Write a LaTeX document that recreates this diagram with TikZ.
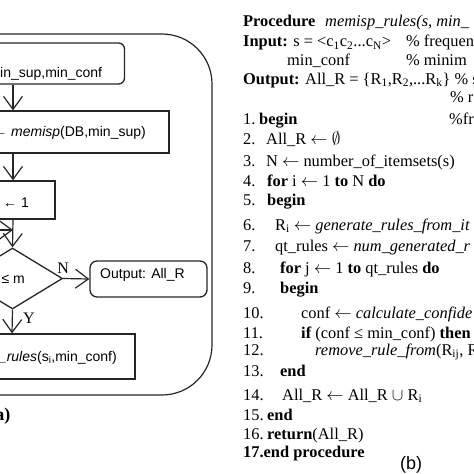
\documentclass[tikz,border=0pt]{standalone}
\usepackage{fontspec}
\setmainfont{Liberation Serif}
\newfontfamily\arialfont{Liberation Sans}
\usepackage{tikz}
\usetikzlibrary{shapes.geometric,arrows.meta,positioning,calc}

\newcommand{\flowfont}{\arialfont\fontsize{14}{16}\selectfont}
\newcommand{\algfont}{\fontsize{16.4}{20}\selectfont}
\newcommand{\getsarrow}{$\leftarrow$}

\begin{document}
\begin{tikzpicture}[
    x=1pt,y=-1pt,
    box/.style={draw=black!85,line width=1.3pt,inner sep=0pt},
    rbox/.style={box,rounded corners=6pt},
    cond/.style={box,diamond},
    ftxt/.style={font=\flowfont,inner sep=0pt},
    lbl/.style={font=\fontsize{16}{16}\selectfont,inner sep=0pt},
    alg/.style={font=\algfont,anchor=base west,inner sep=0pt},
    flow/.style={-{Straight Barb[length=13pt,width=19pt]},line width=1.2pt,draw=black!85},
]
    \useasboundingbox (0,0) rectangle (474,474);
    \clip (0,0) rectangle (474,474);

    % (a) flowchart
    \draw[line width=1.2pt,draw=black!85,rounded corners=50pt] (-260,34) rectangle (212,395);

    \node[rbox,minimum width=223pt,minimum height=41pt] (inbox) at (13,63.5) {};
    \node[box,minimum width=312pt,minimum height=42pt] (memisp) at (13,132) {};
    \node[box,minimum width=84pt,minimum height=38pt] (init) at (13,200) {};
    \node[cond,minimum width=100pt,minimum height=61pt] (check) at (12.5,278.5) {};
    \node[rbox,rounded corners=7pt,minimum width=117pt,minimum height=36pt] (output) at (148.5,279) {};
    \node[box,minimum width=246pt,minimum height=45pt] (rules) at (12,356.5) {};

    \node[ftxt,anchor=base west] (intxt) at (0,77) {in\_sup,min\_conf};
    \node[ftxt,anchor=base east] (memisptxt) at (146,136.5) {← \textit{memisp}(DB,min\_sup)};
    \node[ftxt,anchor=base west] (inittxt) at (3,207) {← 1};
    \node[ftxt,anchor=base east] (checktxt) at (25,283) {≤ m};
    \node[ftxt,anchor=base west] (outtxt) at (100,278) {Output: All\_R};
    \node[ftxt,anchor=base east] (rulestxt) at (117,361.5) {\textit{\_rules}(s\textsubscript{i},min\_conf)};

    \draw[flow] (inbox.south) -- (memisp.north);
    \draw[flow] (memisp.south) -- (init.north);
    \draw[flow] (init.south) -- (check.north);
    \draw[flow] (check.east) -- (output.west);
    \draw[flow] (check.south) -- (rules.north);
    \coordinate (loopin) at (-40,230);
    \draw[flow] (loopin) -- (loopin -| init.south);

    \node[lbl,anchor=base] (nolbl) at ([yshift=5pt]check.east) {N};
    \node[lbl,anchor=base west] (yeslbl) at ([xshift=10.5pt,yshift=-14pt]check.south) {Y};

    \node[font=\fontsize{18}{18}\selectfont\bfseries,anchor=base east,inner sep=0pt] (capa) at (10.5,420) {a)};

    % (b) procedure
    \node[alg] (proc) at (243,26.7) {\textbf{Procedure}};
    \node[alg] (procname) at (325,26.7) {\textit{memisp\_rules(s, min\_}};
    \node[alg] (input) at (243,46.7) {\textbf{Input:} s = <c\textsubscript{1}c\textsubscript{2}...c\textsubscript{N}>};
    \node[alg] (inputc) at (406,46.7) {\% frequen};
    \node[alg] (minconf) at (287,65) {min\_conf};
    \node[alg] (minconfc) at (406,65) {\% minim};
    \node[alg] (outp) at (243,84) {\textbf{Output:} All\_R = \{R\textsubscript{1},R\textsubscript{2},...R\textsubscript{k}\} \% s};
    \node[alg] (outc) at (450,102.7) {\% r};
    \node[alg] (outd) at (449,124) {\%fr};

    \foreach \n/\y in {1/124,2/144,3/166,4/186,5/205,6/230,7/251,8/273,9/293,10/318,11/338,12/355,13/376,14/400,15/420,16/439}
        \node[alg] (num\n) at (243,\y) {\n.};

    \node[alg] (l1) at (259,124) {\textbf{begin}};
    \node[alg] (l2) at (266,144) {All\_R \getsarrow{} $\emptyset$};
    \node[alg] (l3) at (266,166) {N \getsarrow{} number\_of\_itemsets(s)};
    \node[alg] (l4) at (267,186) {\textbf{for} i \getsarrow{} 1 \textbf{to} N \textbf{do}};
    \node[alg] (l5) at (267,205) {\textbf{begin}};
    \node[alg] (l6) at (275,230) {R\textsubscript{i} \getsarrow{} \textit{generate\_rules\_from\_it}};
    \node[alg] (l7) at (275,251) {qt\_rules \getsarrow{} \textit{num\_generated\_r}};
    \node[alg] (l8) at (280,273) {\textbf{for} j \getsarrow{} 1 \textbf{to} qt\_rules \textbf{do}};
    \node[alg] (l9) at (280,293) {\textbf{begin}};
    \node[alg] (l10) at (301,318) {conf \getsarrow{} \textit{calculate\_confide}};
    \node[alg] (l11) at (301,338) {\textbf{if} (conf ≤ min\_conf) \textbf{then}};
    \node[alg] (l12) at (315,355) {\textit{remove\_rule\_from}(R\textsubscript{ij}, R};
    \node[alg] (l13) at (280,376) {\textbf{end}};
    \node[alg] (l14) at (282,400) {All\_R \getsarrow{} All\_R $\cup$ R\textsubscript{i}};
    \node[alg] (l15) at (267,420) {\textbf{end}};
    \node[alg] (l16) at (267,439) {\textbf{return}(All\_R)};
    \node[alg] (l17) at (243,457) {\textbf{17.end procedure}};

    \node[font=\arialfont\fontsize{18}{18}\selectfont,anchor=base west,inner sep=0pt] (capb) at (400,469) {(b)};
\end{tikzpicture}
\end{document}
